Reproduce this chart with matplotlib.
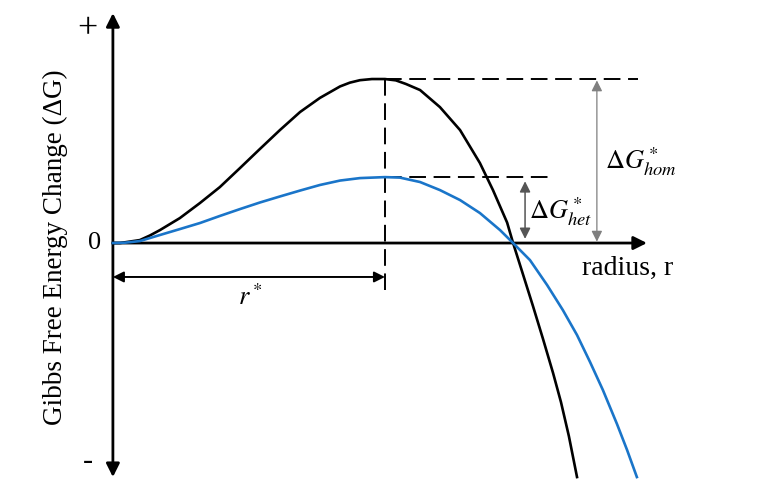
import matplotlib
matplotlib.use("Agg")
import matplotlib.pyplot as plt

# radius in units of r*, energy in units of dG*_hom
r_hom = [0.0, 0.026, 0.099, 0.136, 0.173, 0.246, 0.320, 0.393, 0.467, 0.540,
         0.614, 0.688, 0.761, 0.835, 0.871, 0.908, 0.952, 1.0, 1.040, 1.077,
         1.129, 1.202, 1.276, 1.349, 1.397, 1.449, 1.471, 1.507, 1.544, 1.581,
         1.618, 1.647, 1.676, 1.706]
g_hom = [0.0, 0.0, 0.018, 0.046, 0.079, 0.152, 0.244, 0.341, 0.457, 0.573,
         0.689, 0.799, 0.885, 0.955, 0.978, 0.993, 1.0, 1.0, 0.992, 0.970,
         0.933, 0.829, 0.689, 0.488, 0.323, 0.125, 0.0, -0.189, -0.384, -0.585,
         -0.793, -0.970, -1.177, -1.427]

r_het = [0.0, 0.044, 0.099, 0.173, 0.246, 0.320, 0.393, 0.467, 0.540, 0.614,
         0.688, 0.761, 0.835, 0.908, 1.0, 1.055, 1.129, 1.202, 1.276, 1.349,
         1.423, 1.471, 1.533, 1.596, 1.654, 1.706, 1.754, 1.801, 1.853, 1.890,
         1.926]
g_het = [0.0, 0.002, 0.012, 0.049, 0.085, 0.122, 0.165, 0.207, 0.247, 0.284,
         0.320, 0.354, 0.381, 0.396, 0.402, 0.399, 0.372, 0.323, 0.262, 0.183,
         0.079, 0.0, -0.104, -0.256, -0.409, -0.561, -0.726, -0.896, -1.104, -1.262,
         -1.427]

R_STAR = 1.0
G_HOM = 1.0
G_HET = 0.402

BLUE = "#1a75c9"
plt.rcParams["font.family"] = ["Liberation Serif", "DejaVu Serif"]
plt.rcParams["mathtext.fontset"] = "stix"
plt.rcParams["lines.scale_dashes"] = False

fig = plt.figure(figsize=(7.68, 4.90), dpi=100)
ax = fig.add_axes([0, 0, 1, 1])
ax.set_xlim(-0.415, 2.408)
ax.set_ylim(-1.506, 1.482)
ax.axis("off")

# axes with arrow heads
ax.annotate("", xy=(0, 1.402), xytext=(0, -1.427),
            arrowprops=dict(arrowstyle="<|-|>", lw=2.0, color="black",
                            mutation_scale=20, shrinkA=0, shrinkB=0))
ax.annotate("", xy=(1.963, 0), xytext=(0, 0),
            arrowprops=dict(arrowstyle="-|>", lw=2.0, color="black",
                            mutation_scale=20, shrinkA=0, shrinkB=0))

# curves
ax.plot(r_hom, g_hom, color="black", lw=1.9, solid_joinstyle="round", zorder=3)
ax.plot(r_het, g_het, color=BLUE, lw=1.9, solid_joinstyle="round", zorder=3)

# dashed guides
dash = (0, (12, 5.5))
ax.plot([R_STAR, R_STAR], [G_HOM, -0.287], color="black", lw=1.4, ls=dash)
ax.plot([R_STAR, 1.930], [G_HOM, G_HOM], color="black", lw=1.4, ls=dash)
ax.plot([R_STAR, 1.614], [G_HET, G_HET], color="black", lw=1.4, ls=dash)

# r* arrow
ax.annotate("", xy=(R_STAR, -0.207), xytext=(0, -0.207),
            arrowprops=dict(arrowstyle="<|-|>", lw=1.4, color="black",
                            mutation_scale=16, shrinkA=0, shrinkB=0))
ax.text(0.504, -0.33, r"$r^*$", fontsize=19, ha="center", va="center")

# barrier arrows
ax.annotate("", xy=(1.779, G_HOM), xytext=(1.779, 0),
            arrowprops=dict(arrowstyle="<|-|>", lw=0.9, color="#7f7f7f",
                            mutation_scale=16, shrinkA=1, shrinkB=1))
ax.annotate("", xy=(1.515, G_HET), xytext=(1.515, 0),
            arrowprops=dict(arrowstyle="<|-|>", lw=1.1, color="#555555",
                            mutation_scale=16, shrinkA=3, shrinkB=3))
ax.text(1.81, 0.494, r"$\Delta G^*_{hom}$", fontsize=19, ha="left", va="center")
ax.text(1.529, 0.189, r"$\Delta G^*_{het}$", fontsize=19, ha="left", va="center")

# axis labels
ax.text(1.724, -0.152, "radius, r", fontsize=20, ha="left", va="center")
ax.text(-0.066, 0.0, "0", fontsize=19, ha="center", va="center")
ax.text(-0.092, 1.30, "+", fontsize=26, ha="center", va="center")
ax.text(-0.092, -1.335, "-", fontsize=22, ha="center", va="center")
ax.text(-0.213, -0.024, "Gibbs Free Energy Change (\u0394G)", fontsize=19.5,
        rotation=90, ha="center", va="center")

fig.savefig("out.png", dpi=100)
